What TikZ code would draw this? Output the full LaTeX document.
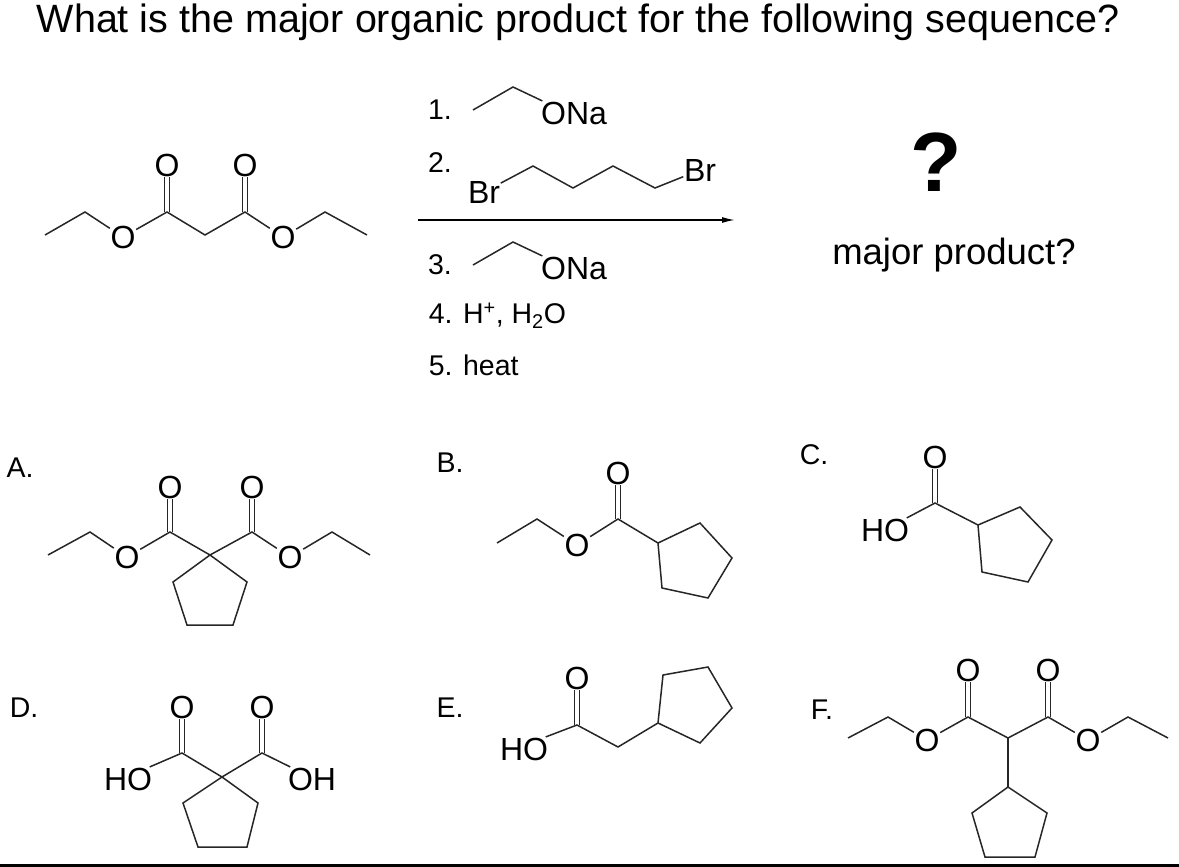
\documentclass[tikz,border=0pt]{standalone}
\usepackage{fontspec}
\setmainfont{Liberation Sans}
\usetikzlibrary{arrows.meta}
\begin{document}
\begin{tikzpicture}[x=1pt,y=-1pt,line width=1.5pt,
  atom/.style={font=\fontsize{32}{32}\selectfont,inner sep=0pt},
  lbl/.style={font=\fontsize{28.5}{28}\selectfont,inner sep=0pt},
  bnd/.style={line width=1.5pt,draw=black!85}]
\useasboundingbox (0,0) rectangle (1179,867);
% title
\node[font=\fontsize{39.5}{40}\selectfont] (title) at (578,22) {What is the major organic product for the following sequence?};
% ===== starting material
\foreach \n/\x/\y in {s1/45/235,s2/85/212,s3/167/212,s4/205/235,s5/245/212,s6/325/212,s7/367/235} \coordinate (\n) at (\x,\y);
\node[atom] (so1) at (123,237) {O};
\node[atom] (so2) at (167,165) {O};
\node[atom] (so3) at (245,165) {O};
\node[atom] (so4) at (283,237) {O};
\draw[bnd] (s1)--(s2)--(so1)--(s3)--(s4)--(s5)--(so4)--(s6)--(s7);
\draw[bnd] ([xshift=-2.5pt]s3)--([xshift=-2.5pt]so2.south) ([xshift=2.5pt]s3)--([xshift=2.5pt]so2.south);
\draw[bnd] ([xshift=-2.5pt]s5)--([xshift=-2.5pt]so3.south) ([xshift=2.5pt]s5)--([xshift=2.5pt]so3.south);
% ===== reagents
\node[lbl] (r1) at (440,110) {1.};
\coordinate (e1) at (473,110); \coordinate (e2) at (513,87);
\node[atom] (ona1) at (574,113) {ONa};
\draw[bnd] (e1)--(e2)--([xshift=2pt]ona1.north west);
\node[lbl] (r2) at (440,163) {2.};
\node[atom] (br1) at (484,192) {Br};
\node[atom] (br2) at (700,170) {Br};
\coordinate (k1) at (533,166); \coordinate (k2) at (573,188); \coordinate (k3) at (613,166); \coordinate (k4) at (655,188);
\draw[bnd] (br1)--(k1)--(k2)--(k3)--(k4)--(br2);
\coordinate (arrL) at (418,220); \coordinate (arrR) at (735,220);
\draw[line width=1.5pt,-{Latex[length=13pt,width=6pt]}] (arrL)--(arrR);
\node[lbl] (r3) at (440,265) {3.};
\coordinate (f1) at (473,265); \coordinate (f2) at (513,242);
\node[atom] (ona2) at (574,268) {ONa};
\draw[bnd] (f1)--(f2)--([xshift=2pt]ona2.north west);
\node[lbl,anchor=west] (r4) at (428,316) {4. H\textsuperscript{+}, H\textsubscript{2}O};
\node[lbl,anchor=west] (r5) at (428,365) {5. heat};
% product ?
\node[font=\fontsize{84}{84}\selectfont\bfseries] (q) at (936,162) {?};
\node[font=\fontsize{36.5}{36}\selectfont] (mp) at (954,255) {major product?};
% ===== A
\node[lbl] (la) at (20,468) {A.};
\foreach \n/\x/\y in {a1/48/555,a2/90/532,a3/170/532,a4/210/555,a5/252/532,a6/332/532,a7/370/555,ar1/247/582,ar2/233/625,ar3/187/625,ar4/173/582} \coordinate (\n) at (\x,\y);
\node[atom] (ao1) at (127,557) {O};
\node[atom] (ao2) at (170,487) {O};
\node[atom] (ao3) at (252,487) {O};
\node[atom] (ao4) at (290,557) {O};
\draw[bnd] (a1)--(a2)--(ao1)--(a3)--(a4)--(a5)--(ao4)--(a6)--(a7);
\draw[bnd] (a4)--(ar1)--(ar2)--(ar3)--(ar4)--cycle;
\draw[bnd] ([xshift=-2.5pt]a3)--([xshift=-2.5pt]ao2.south) ([xshift=2.5pt]a3)--([xshift=2.5pt]ao2.south);
\draw[bnd] ([xshift=-2.5pt]a5)--([xshift=-2.5pt]ao3.south) ([xshift=2.5pt]a5)--([xshift=2.5pt]ao3.south);
% ===== B
\node[lbl] (lb) at (450,463) {B.};
\foreach \n/\x/\y in {b1/497/543,b2/537/519,b3/618/519,b4/658/543,br1/700/523,br2/732/558,br3/708/598,br4/662/588} \coordinate (\n) at (\x,\y);
\node[atom] (bo1) at (577,545) {O};
\node[atom] (bo2) at (618,473) {O};
\draw[bnd] (b1)--(b2)--(bo1)--(b3)--(b4);
\draw[bnd] (b4)--(br1)--(br2)--(br3)--(br4)--cycle;
\draw[bnd] ([xshift=-2.5pt]b3)--([xshift=-2.5pt]bo2.south) ([xshift=2.5pt]b3)--([xshift=2.5pt]bo2.south);
% ===== C
\node[lbl] (lc) at (814,455) {C.};
\foreach \n/\x/\y in {c3/935/503,c4/978/525,cr1/1020/507,cr2/1052/540,cr3/1028/582,cr4/982/572} \coordinate (\n) at (\x,\y);
\node[atom] (co1) at (885,530) {HO};
\node[atom] (co2) at (935,457) {O};
\draw[bnd] ([xshift=-3pt]co1.north east)--(c3)--(c4);
\draw[bnd] (c4)--(cr1)--(cr2)--(cr3)--(cr4)--cycle;
\draw[bnd] ([xshift=-2.5pt]c3)--([xshift=-2.5pt]co2.south) ([xshift=2.5pt]c3)--([xshift=2.5pt]co2.south);
% ===== D
\node[lbl] (ld) at (24,708) {D.};
\foreach \n/\x/\y in {d3/182/753,d4/222/777,d5/262/753,dr1/258/803,dr2/247/847,dr3/198/847,dr4/183/803} \coordinate (\n) at (\x,\y);
\node[atom] (do1) at (128,779) {HO};
\node[atom] (do2) at (182,707) {O};
\node[atom] (do3) at (262,707) {O};
\node[atom] (do4) at (312,779) {OH};
\draw[bnd] ([xshift=-3pt]do1.north east)--(d3)--(d4)--(d5)--([xshift=3pt]do4.north west);
\draw[bnd] (d4)--(dr1)--(dr2)--(dr3)--(dr4)--cycle;
\draw[bnd] ([xshift=-2.5pt]d3)--([xshift=-2.5pt]do2.south) ([xshift=2.5pt]d3)--([xshift=2.5pt]do2.south);
\draw[bnd] ([xshift=-2.5pt]d5)--([xshift=-2.5pt]do3.south) ([xshift=2.5pt]d5)--([xshift=2.5pt]do3.south);
% ===== E
\node[lbl] (le) at (450,708) {E.};
\foreach \n/\x/\y in {e3/577/725,e4/618/747,e5/658/723,er1/663/675,er2/708/667,er3/732/708,er4/700/743} \coordinate (\n) at (\x,\y);
\node[atom] (eo1) at (524,749) {HO};
\node[atom] (eo2) at (577,678) {O};
\draw[bnd] ([xshift=-3pt]eo1.north east)--(e3)--(e4)--(e5);
\draw[bnd] (e5)--(er1)--(er2)--(er3)--(er4)--cycle;
\draw[bnd] ([xshift=-2.5pt]e3)--([xshift=-2.5pt]eo2.south) ([xshift=2.5pt]e3)--([xshift=2.5pt]eo2.south);
% ===== F
\node[lbl] (lf) at (822,710) {F.};
\foreach \n/\x/\y in {g1/848/738,g2/888/717,g3/968/717,g4/1008/738,g5/1048/717,g6/1128/717,g7/1168/738,g8/1008/787,gr1/1047/813,gr2/1035/857,gr3/985/857,gr4/972/813} \coordinate (\n) at (\x,\y);
\node[atom] (go1) at (927,740) {O};
\node[atom] (go2) at (968,670) {O};
\node[atom] (go3) at (1048,670) {O};
\node[atom] (go4) at (1088,740) {O};
\draw[bnd] (g1)--(g2)--(go1)--(g3)--(g4)--(g5)--(go4)--(g6)--(g7);
\draw[bnd] (g4)--(g8);
\draw[bnd] (g8)--(gr1)--(gr2)--(gr3)--(gr4)--cycle;
\draw[bnd] ([xshift=-2.5pt]g3)--([xshift=-2.5pt]go2.south) ([xshift=2.5pt]g3)--([xshift=2.5pt]go2.south);
\draw[bnd] ([xshift=-2.5pt]g5)--([xshift=-2.5pt]go3.south) ([xshift=2.5pt]g5)--([xshift=2.5pt]go3.south);
% bottom rule
\fill (0,864) rectangle (1179,867);
\end{tikzpicture}
\end{document}
